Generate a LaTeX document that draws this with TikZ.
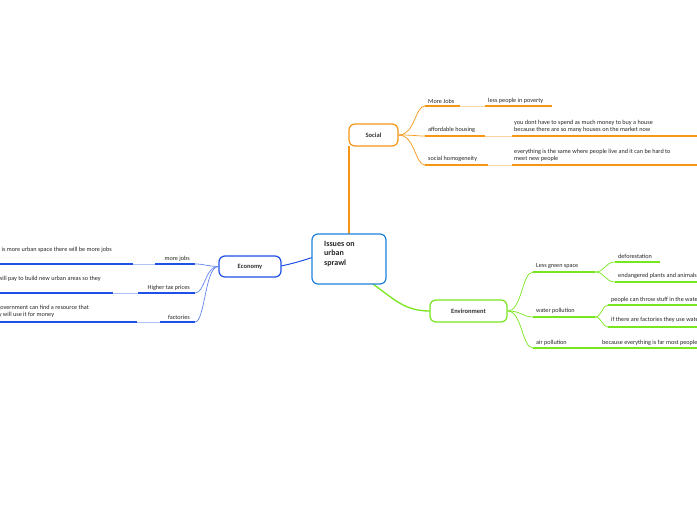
\documentclass[tikz,border=0pt]{standalone}
\usepackage{fontspec}
\setmainfont{Carlito}
\definecolor{ob}{RGB}{245,150,20}
\definecolor{bb}{RGB}{30,80,230}
\definecolor{gb}{RGB}{120,230,30}
\definecolor{cb}{RGB}{30,130,220}
\begin{document}
\begin{tikzpicture}[x=1pt,y=-1pt,
 t/.style={font=\fontsize{6.2}{7.7}\selectfont,inner sep=0pt,anchor=south west,align=left,text=black!85},
 main/.style={draw,rounded corners=6pt,line width=1.2pt,font=\bfseries\fontsize{8}{9}\selectfont,inner sep=0pt,text=black!80},
 org/.style={draw=ob,line width=1.6pt},
 blu/.style={draw=bb,line width=1.6pt},
 grn/.style={draw=gb,line width=1.6pt}]
\useasboundingbox (0,0) rectangle (697,520);
\clip (0,0) rectangle (697,520);
% connectors from centre
\draw[draw=ob,line width=1.5pt] (349,146) -- (349,234);
\draw[draw=bb,line width=1pt] (281,266) .. controls (300,262) and (310,258) .. (320,255);
\draw[draw=gb,line width=1.3pt] (373,284) .. controls (395,300) and (405,311) .. (430,311);
% central
\node[main,draw=cb,fill=white,minimum width=74pt,minimum height=50pt] (c) at (349,259) {};
\node[font=\bfseries\fontsize{8}{9.5}\selectfont,align=left,anchor=north west,inner sep=0pt,text=black!85] (ct) at (324,241) {Issues on\\urban\\sprawl};
\node[main,draw=ob,fill=white,minimum width=49pt,minimum height=22pt,font=\bfseries\fontsize{6.5}{8}\selectfont] (s) at (373.5,135) {Social};
\node[main,draw=bb,fill=white,minimum width=62pt,minimum height=21pt,font=\bfseries\fontsize{6.5}{8}\selectfont] (e) at (250,266.5) {Economy};
\node[main,draw=gb,fill=white,minimum width=77pt,minimum height=22pt,font=\bfseries\fontsize{6.5}{8}\selectfont] (v) at (468.5,311) {Environment};
% Social
\foreach \y in {106,136,165}{\draw[ob,line width=0.7pt] (s.east) .. controls (415,135) and (415,\y) .. (425,\y);}
\draw[org] (425,106)--(460,106); \draw[org] (425,136)--(485,136); \draw[org] (425,165)--(488,165);
\draw[org] (485,106)--(552,106); \draw[org] (512,136)--(697,136); \draw[org] (512,165)--(697,165);
\draw[ob!40,line width=0.7pt] (460,106)--(485,106) (485,136)--(512,136) (488,165)--(512,165);
\node[t] (s1) at (428,104) {More Jobs};
\node[t] (s1a) at (488,104) {less people in poverty};
\node[t] (s2) at (428,133) {affordable housing};
\node[t] (s2a) at (514,133) {you dont have to spend as much money to buy a house\\because there are so many houses on the market now};
\node[t] (s3) at (428,162) {social homogeneity};
\node[t] (s3a) at (514,162) {everything is the same where people live and it can be hard to\\meet new people};
% Economy
\foreach \y in {264,293,322}{\draw[bb!70,line width=0.7pt] (e.west) .. controls (205,266) and (205,\y) .. (195,\y);}
\draw[blu] (155,264)--(195,264); \draw[blu] (138,293)--(195,293); \draw[blu] (160,322)--(195,322);
\draw[blu] (0,264)--(133,264); \draw[blu] (0,293)--(113,293); \draw[blu] (0,322)--(137,322);
\draw[bb!35,line width=0.7pt] (133,264)--(155,264) (113,293)--(138,293) (137,322)--(160,322);
\node[t,anchor=south east] (e1) at (190,262) {more jobs};
\node[t,anchor=south east] (e2) at (190,291) {Higher tax prices};
\node[t,anchor=south east] (e3) at (190,320) {factories};
\node[t,anchor=south east] (e1a) at (112,253) {if there is more urban space there will be more jobs};
\node[t,anchor=south east] (e2a) at (101,282) {people will pay to build new urban areas so they};
\node[t,anchor=south west] (e3a) at (-46,318) {and sprawl if the government can find a resource that\\makes money they will use it for money};
% Environment
\foreach \y in {272,317,348}{\draw[gb,line width=0.7pt] (v.east) .. controls (522,311) and (522,\y) .. (533,\y);}
\draw[grn] (533,272)--(595,272); \draw[grn] (533,317)--(595,317); \draw[grn] (533,348)--(598,348);
\foreach \y in {262,282}{\draw[gb,line width=0.7pt] (595,272) .. controls (605,272) and (605,\y) .. (615,\y);}
\foreach \y in {305,327}{\draw[gb,line width=0.7pt] (595,317) .. controls (602,317) and (602,\y) .. (608,\y);}
\draw[grn] (615,262)--(660,262); \draw[grn] (615,282)--(697,282);
\draw[grn] (608,305)--(697,305); \draw[grn] (608,327)--(697,327);
\draw[grn] (598,348)--(697,348);
\node[t] (v1) at (536,269) {Less green space};
\node[t] (v1a) at (618,259) {deforestation};
\node[t] (v1b) at (618,279) {endangered plants and animals};
\node[t] (v2) at (536,314) {water pollution};
\node[t] (v2a) at (611,303) {people can throw stuff in the water};
\node[t] (v2b) at (611,323) {if there are factories they use water};
\node[t] (v3) at (536,346) {air pollution};
\node[t] (v3a) at (602,346) {because everything is far most people drive};
\end{tikzpicture}
\end{document}
